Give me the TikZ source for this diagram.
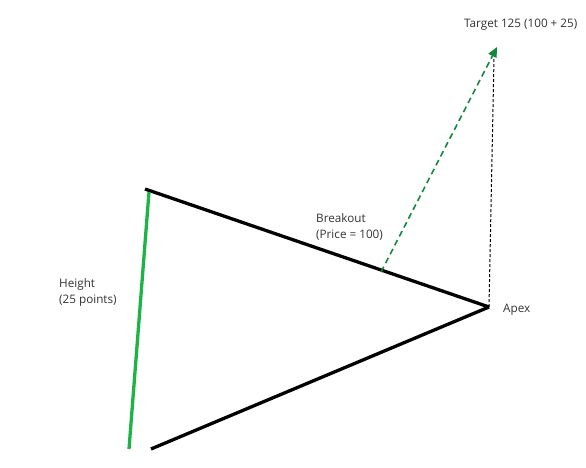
\documentclass[tikz,border=0pt]{standalone}
\usepackage{fontspec}
\setmainfont{Open Sans}
\usepackage{xcolor}
\usetikzlibrary{positioning,arrows.meta}
\definecolor{hgreen}{HTML}{1DB345}
\definecolor{dgreen}{HTML}{128A3E}
\definecolor{txt}{HTML}{333333}

\begin{document}
\begin{tikzpicture}[x=1pt,y=-1pt,
    trend/.style={line width=3.3pt,black},
    heightline/.style={line width=3.3pt,hgreen},
    lbl/.style={font=\fontsize{11.7}{16}\selectfont,text=txt,align=left,anchor=west,inner sep=0pt}]
        \useasboundingbox (0,0) rectangle (586,467);
        % Triangle points
        \coordinate (top) at (145,189);
        \coordinate (bottom) at (151,449);
        \coordinate (apex) at (489,307);
        \coordinate (htop) at (149,192);
        \coordinate (hbot) at (129,449);
        \coordinate (brk) at (381,272);
        \coordinate (tgt) at (497,47);
        \coordinate (tgtv) at (494,58);
        % Trend lines
        \draw[trend] (top) -- (apex);
        \draw[trend] (bottom) -- (apex);
        % Height
        \draw[heightline] (hbot) -- (htop);
        % Projection
        \draw[dgreen,line width=1.6pt,dash pattern=on 6pt off 4pt,
            -{Triangle[length=10pt,width=9pt]}] (brk) -- (tgt);
        \draw[black,line width=1pt,dash pattern=on 3pt off 2pt] (apex) -- (tgtv);
        % Labels
        \node[lbl] (target) at (464,25) {Target 125 (100 + 25)};
        \node[lbl] (breakout) at (316,227) {Breakout\\(Price = 100)};
        \node[lbl] (apexlbl) at (503,310) {Apex};
        \node[lbl] (heightlbl) at (59,292) {Height\\(25 points)};
\end{tikzpicture}
\end{document}
